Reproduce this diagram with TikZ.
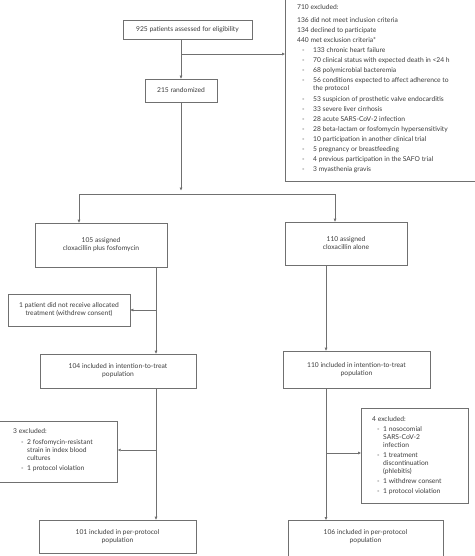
\documentclass[tikz,border=0pt]{standalone}
\usepackage{fontspec}
\setmainfont{Lato}
\usetikzlibrary{arrows.meta}
\definecolor{txt}{HTML}{3C3C3C}
\definecolor{ln}{HTML}{707070}
\tikzset{
  box/.style={draw=ln, line width=0.7pt, rectangle, inner sep=0pt, align=center, text=txt,
    font=\fontsize{6.7}{8}\selectfont},
  lst/.style={anchor=north west, inner sep=0pt, align=left, text=txt, font=\fontsize{6.7}{8}\selectfont},
  conn/.style={draw=ln, line width=0.7pt},
  arr/.style={conn, -{Triangle[length=3pt,width=2.6pt]}}
}
\begin{document}
\begin{tikzpicture}[x=1pt,y=-1pt]
\useasboundingbox (0,0) rectangle (474,556);
% boxes
\node[box, minimum width=129pt, minimum height=19pt] (elig) at (187.5,29.5) {925 patients assessed for eligibility};
\node[box, anchor=north west, minimum width=192pt, minimum height=184pt] (excl) at (285,-3) {};
\node[lst] (excltxt) at (297,4) {%
\begin{tabular}{@{}p{16pt}@{}l@{}}
\multicolumn{2}{@{}l@{}}{710 excluded:}\\[5pt]
\multicolumn{2}{@{}l@{}}{136 did not meet inclusion criteria}\\[2pt]
\multicolumn{2}{@{}l@{}}{134 declined to participate}\\[2pt]
\multicolumn{2}{@{}l@{}}{440 met exclusion criteria*}\\[2pt]
\hspace*{5pt}- & 133 chronic heart failure\\[2pt]
\hspace*{5pt}- & 70 clinical status with expected death in <24 h\\[2pt]
\hspace*{5pt}- & 68 polymicrobial bacteremia\\[2pt]
\hspace*{5pt}- & 56 conditions expected to affect adherence to\\
 & the protocol\\[3pt]
\hspace*{5pt}- & 53 suspicion of prosthetic valve endocarditis\\[2pt]
\hspace*{5pt}- & 33 severe liver cirrhosis\\[2pt]
\hspace*{5pt}- & 28 acute SARS-CoV-2 infection\\[2pt]
\hspace*{5pt}- & 28 beta-lactam or fosfomycin hypersensitivity\\[2pt]
\hspace*{5pt}- & 10 participation in another clinical trial\\[2pt]
\hspace*{5pt}- & 5 pregnancy or breastfeeding\\[2pt]
\hspace*{5pt}- & 4 previous participation in the SAFO trial\\[2pt]
\hspace*{5pt}- & 3 myasthenia gravis
\end{tabular}};
\node[box, minimum width=72pt, minimum height=23pt] (rand) at (181,90.5) {215 randomized};
\node[box, minimum width=132pt, minimum height=44pt] (arm1) at (101,245) {105 assigned\\cloxacillin plus fosfomycin};
\node[box, minimum width=122pt, minimum height=43pt] (arm2) at (346,243.5) {110 assigned\\cloxacillin alone};
\node[box, minimum width=122pt, minimum height=32pt] (notrec) at (69,310) {1 patient did not receive allocated\\treatment (withdrew consent)};
\node[box, minimum width=156pt, minimum height=34pt] (itt1) at (118,371) {104 included in intention-to-treat\\population};
\node[box, minimum width=147pt, minimum height=37pt] (itt2) at (356.5,369.5) {110 included in intention-to-treat\\population};
\node[box, anchor=north west, minimum width=118pt, minimum height=61pt] (exc3) at (-1,421) {};
\node[lst] (exc3txt) at (13,427.5) {%
\begin{tabular}{@{}p{14pt}@{}l@{}}
\multicolumn{2}{@{}l@{}}{3 excluded:}\\[3pt]
\hspace*{8pt}- & 2 fosfomycin-resistant\\
 & strain in index blood\\
 & cultures\\[2pt]
\hspace*{8pt}- & 1 protocol violation
\end{tabular}};
\node[box, anchor=north west, minimum width=107pt, minimum height=95pt] (exc4) at (361,408) {};
\node[lst] (exc4txt) at (372,415.5) {%
\begin{tabular}{@{}p{11pt}@{}l@{}}
\multicolumn{2}{@{}l@{}}{4 excluded:}\\[2pt]
\hspace*{5pt}- & 1 nosocomial\\
 & SARS-CoV-2\\
 & infection\\[2pt]
\hspace*{5pt}- & 1 treatment\\
 & discontinuation\\
 & (phlebitis)\\[2pt]
\hspace*{5pt}- & 1 withdrew consent\\[2pt]
\hspace*{5pt}- & 1 protocol violation
\end{tabular}};
\node[box, minimum width=157pt, minimum height=33pt] (pp1) at (117.5,536.5) {101 included in per-protocol\\population};
\node[box, anchor=north, minimum width=155pt, minimum height=40pt] (pp2) at (365.5,520) {};
\node[box, draw=none, anchor=center] (pp2txt) at (365.5,537) {106 included in per-protocol\\population};
% connectors
\coordinate (j1) at (181,54);
\coordinate (sp) at (181,194);
\coordinate (s1) at (79,194);
\coordinate (s2) at (335,194);
\coordinate (L) at (156,0);
\coordinate (R) at (326,0);
\coordinate (b1) at (156,310);
\coordinate (b2) at (156,450);
\coordinate (b3) at (326,453);
\draw[conn] (elig.south -| j1) -- (j1);
\draw[arr] (j1) -- (j1 -| excl.west);
\draw[arr] (j1) -- (rand.north -| j1);
\draw[arr, shorten >=3.5pt] (rand.south -| sp) -- (sp);
\draw[conn] (s1) -- (s2);
\draw[arr] (s1) -- (s1 |- arm1.north);
\draw[arr] (s2) -- (s2 |- arm2.north);
\draw[arr] (arm1.south -| L) -- (itt1.north -| L);
\draw[arr] (b1) -- (b1 -| notrec.east);
\draw[arr] (itt1.south -| L) -- (pp1.north -| L);
\draw[arr] (b2) -- (b2 -| exc3.east);
\draw[arr] (arm2.south -| R) -- (itt2.north -| R);
\draw[arr] (itt2.south -| R) -- (pp2.north -| R);
\draw[arr] (b3) -- (b3 -| exc4.west);
\end{tikzpicture}
\end{document}
